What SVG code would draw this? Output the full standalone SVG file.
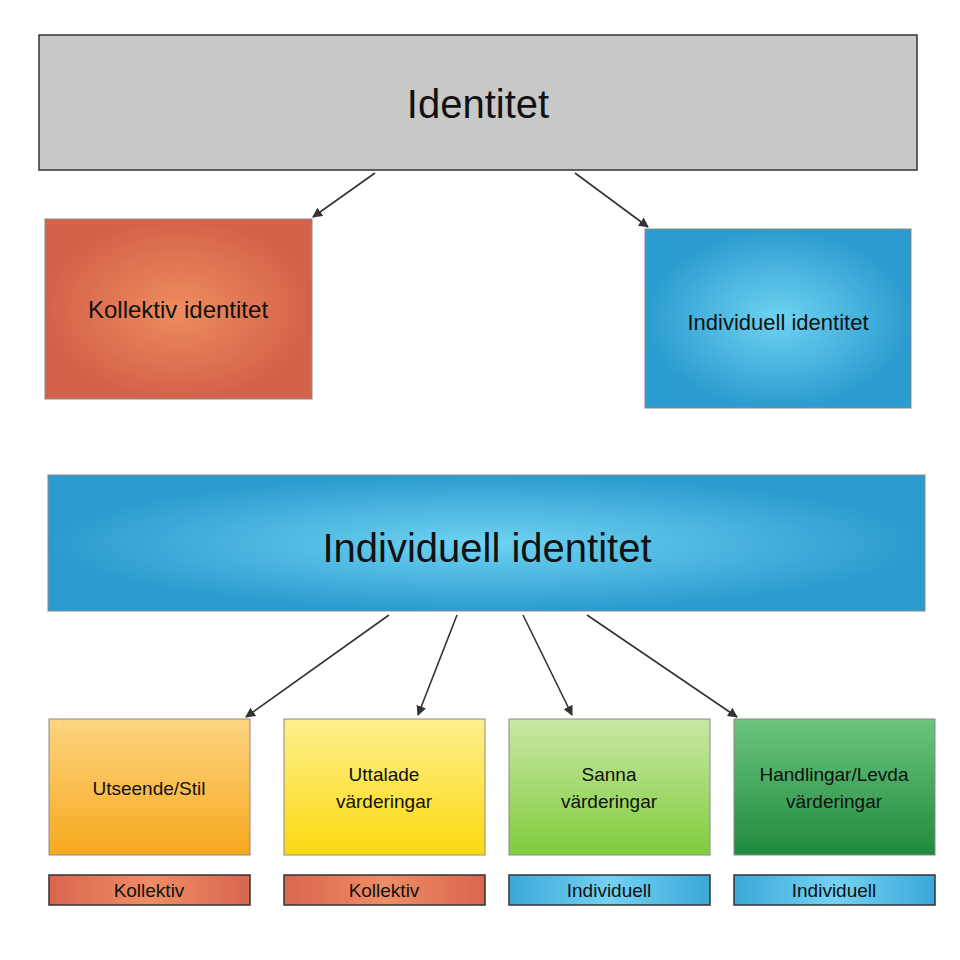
<svg xmlns="http://www.w3.org/2000/svg" width="960" height="960" viewBox="0 0 960 960">
<style>
text{font-family:"Liberation Sans",Arial,sans-serif;fill:#111;text-anchor:middle}
.b{stroke:#8a8a8a;stroke-width:1}
.t{stroke:#333;stroke-width:1.5}
.c line{stroke:#333;stroke-width:1.6;marker-end:url(#a)}
</style>
<defs>
<marker id="a" markerWidth="10" markerHeight="10" refX="9" refY="5" orient="auto" markerUnits="userSpaceOnUse"><path d="M0,0 L10,5 L0,10 z" fill="#333"/></marker>
<radialGradient id="red"><stop offset="0" stop-color="#ee8c5e"/><stop offset="1" stop-color="#d4624a"/></radialGradient>
<radialGradient id="blue"><stop offset="0" stop-color="#6fd3f2"/><stop offset="1" stop-color="#2b9ccf"/></radialGradient>
<linearGradient id="tagr" x1="0" x2="1"><stop offset="0" stop-color="#d9654f"/><stop offset="0.5" stop-color="#ee8d66"/><stop offset="1" stop-color="#d9654f"/></linearGradient>
<linearGradient id="tagb" x1="0" x2="1"><stop offset="0" stop-color="#3aa8d8"/><stop offset="0.5" stop-color="#74d2f2"/><stop offset="1" stop-color="#3aa8d8"/></linearGradient>
<linearGradient id="or" x1="0" y1="0" x2="0" y2="1"><stop offset="0" stop-color="#fdd582"/><stop offset="1" stop-color="#f7a81e"/></linearGradient>
<linearGradient id="ye" x1="0" y1="0" x2="0" y2="1"><stop offset="0" stop-color="#fdf08e"/><stop offset="1" stop-color="#fbd910"/></linearGradient>
<linearGradient id="gr" x1="0" y1="0" x2="0" y2="1"><stop offset="0" stop-color="#c9e8a6"/><stop offset="1" stop-color="#80cc3c"/></linearGradient>
<linearGradient id="dg" x1="0" y1="0" x2="0" y2="1"><stop offset="0" stop-color="#6cc57e"/><stop offset="1" stop-color="#1f8a3e"/></linearGradient>
</defs>
<rect width="960" height="960" fill="#fff"/>
<g id="identitet"><rect x="39" y="35" width="878" height="135" fill="#c8c8c8" stroke="#333" stroke-width="1.5"/><text x="478" y="118" font-size="40">Identitet</text></g>
<g id="kollektiv"><rect class="b" x="45" y="219" width="267" height="180" fill="url(#red)"/><text x="178" y="318" font-size="24">Kollektiv identitet</text></g>
<g id="individuell"><rect class="b" x="645" y="229" width="266" height="179" fill="url(#blue)"/><text x="778" y="330" font-size="22">Individuell identitet</text></g>
<g id="individuell2"><rect class="b" x="48" y="475" width="877" height="136" fill="url(#blue)"/><text x="487" y="562" font-size="40">Individuell identitet</text></g>
<g id="utseende"><rect class="b" x="49" y="719" width="201" height="136" fill="url(#or)"/><text x="149" y="795" font-size="19">Utseende/Stil</text></g>
<g id="uttalade"><rect class="b" x="284" y="719" width="201" height="136" fill="url(#ye)"/><text x="384" y="781" font-size="19">Uttalade</text><text x="384" y="808" font-size="19">värderingar</text></g>
<g id="sanna"><rect class="b" x="509" y="719" width="201" height="136" fill="url(#gr)"/><text x="609" y="781" font-size="19">Sanna</text><text x="609" y="808" font-size="19">värderingar</text></g>
<g id="handlingar"><rect class="b" x="734" y="719" width="201" height="136" fill="url(#dg)"/><text x="834" y="781" font-size="19">Handlingar/Levda</text><text x="834" y="808" font-size="19">värderingar</text></g>
<g id="tag1"><rect class="t" x="49" y="875" width="201" height="30" fill="url(#tagr)"/><text x="149" y="897" font-size="19">Kollektiv</text></g>
<g id="tag2"><rect class="t" x="284" y="875" width="201" height="30" fill="url(#tagr)"/><text x="384" y="897" font-size="19">Kollektiv</text></g>
<g id="tag3"><rect class="t" x="509" y="875" width="201" height="30" fill="url(#tagb)"/><text x="609" y="897" font-size="19">Individuell</text></g>
<g id="tag4"><rect class="t" x="734" y="875" width="201" height="30" fill="url(#tagb)"/><text x="834" y="897" font-size="19">Individuell</text></g>
<g class="c" id="connectors">
<line x1="375" y1="173" x2="313" y2="217"/>
<line x1="575" y1="173" x2="648" y2="227"/>
<line x1="389" y1="615" x2="246" y2="717"/>
<line x1="457" y1="615" x2="418" y2="715"/>
<line x1="523" y1="615" x2="572" y2="715"/>
<line x1="587" y1="615" x2="737" y2="717"/>
</g>
</svg>
